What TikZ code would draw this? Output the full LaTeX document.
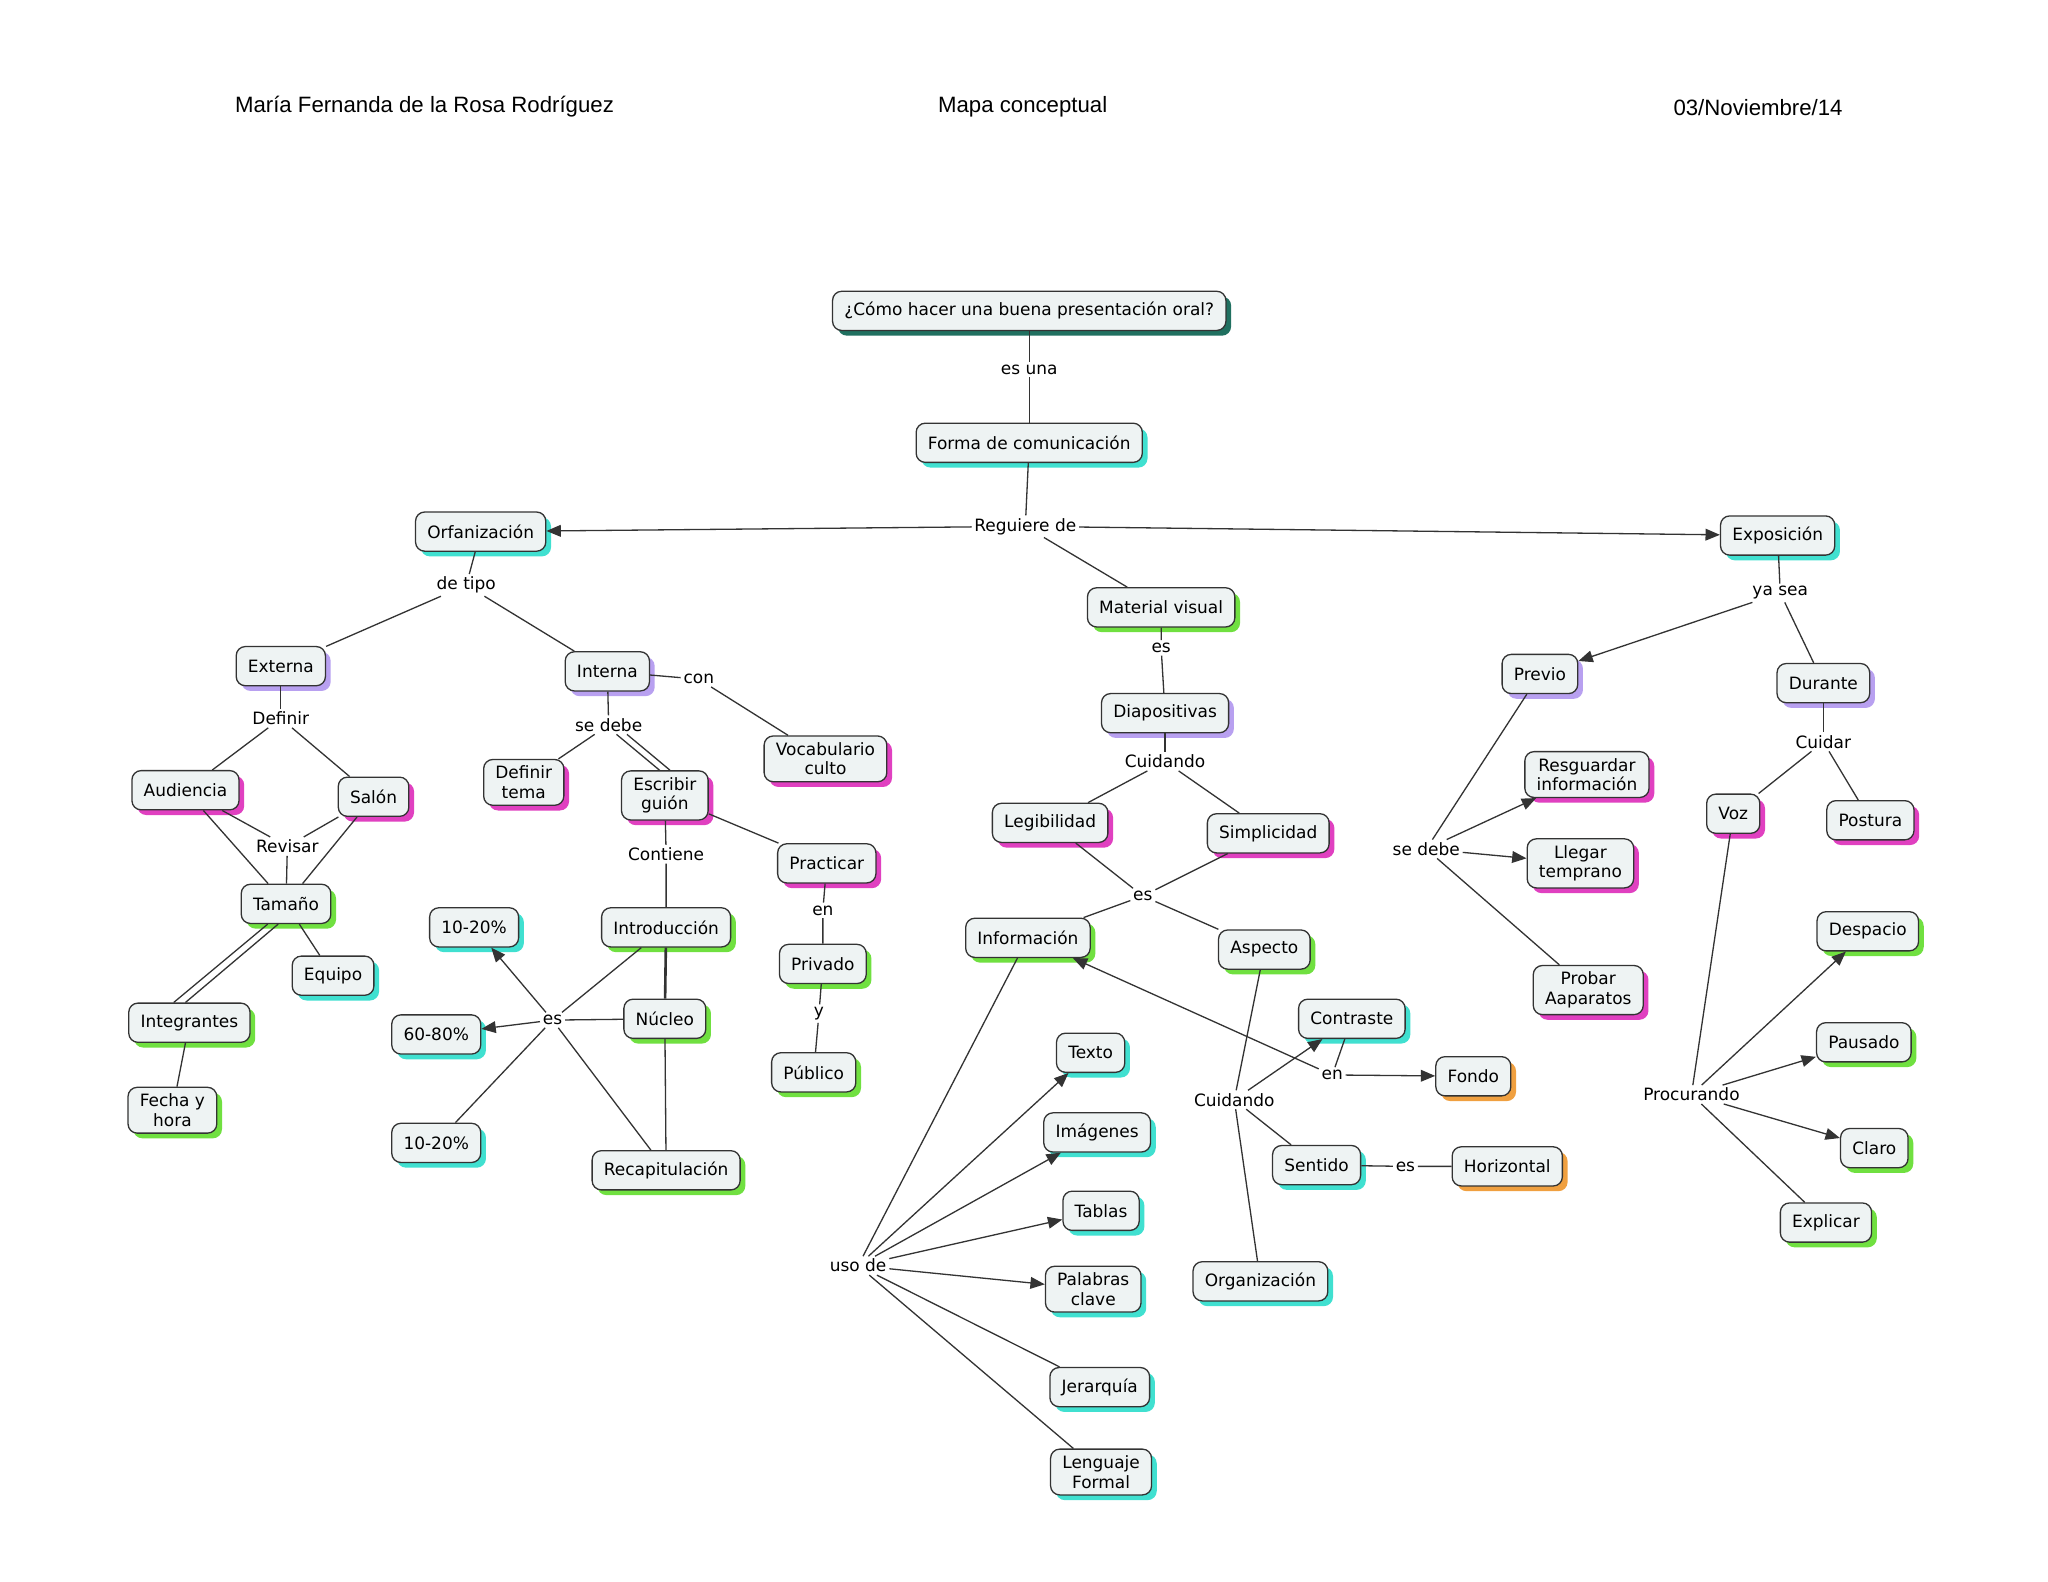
\documentclass[tikz,border=0pt]{standalone}
\usepackage{fontspec}
\setmainfont{DejaVu Sans}
\newfontfamily\hdr{Liberation Sans}
\usetikzlibrary{arrows.meta,shadows}
\definecolor{cy}{HTML}{40E0D0}
\definecolor{pu}{HTML}{B8A0F0}
\definecolor{mg}{HTML}{E040C0}
\definecolor{gr}{HTML}{70E040}
\definecolor{og}{HTML}{F0A040}
\definecolor{dt}{HTML}{207060}
\definecolor{nf}{HTML}{EEF3F3}
\definecolor{ln}{HTML}{333333}
\begin{document}
\begin{tikzpicture}[x=1pt,y=-1pt,
  nd/.style={draw=ln,line width=1pt,fill=nf,rounded corners=7pt,inner xsep=9pt,inner ysep=5pt,minimum height=30pt,align=center,font=\fontsize{13}{15}\selectfont,
    drop shadow={shadow xshift=4pt,shadow yshift=-4pt,fill=#1,opacity=1}},
  lb/.style={fill=white,inner sep=2pt,font=\fontsize{13}{15}\selectfont},
  ed/.style={draw=ln,line width=1pt},
  ar/.style={ed,-{Triangle[length=11pt,width=9pt]}}]
\useasboundingbox (0,0) rectangle (1568,1211);
\fill[white] (0,0) rectangle (1568,1211);
\begin{scope}[font=\hdr\fontsize{17}{20}\selectfont]
\node (h1) at (325,82) {María Fernanda de la Rosa Rodríguez};
\node (h2) at (783,82) {Mapa conceptual};
\node (h3) at (1346,82) {03/Noviembre/14};
\end{scope}
% nodes
\node[nd=dt] (q) at (788,238) {¿Cómo hacer una buena presentación oral?};
\node[nd=cy] (forma) at (788,339) {Forma de comunicación};
\node[nd=cy] (orf) at (368,407) {Orfanización};
\node[nd=cy] (expo) at (1361,410) {Exposición};
\node[nd=gr] (mat) at (889,465) {Material visual};
\node[nd=pu] (dia) at (892,546) {Diapositivas};
\node[nd=pu] (ext) at (215,510) {Externa};
\node[nd=pu] (int) at (465,514) {Interna};
\node[nd=mg] (voc) at (632,581) {Vocabulario\\culto};
\node[nd=mg] (deft) at (401,599) {Definir\\tema};
\node[nd=mg] (esc) at (509,609) {Escribir\\guión};
\node[nd=mg] (aud) at (142,605) {Audiencia};
\node[nd=mg] (sal) at (286,610) {Salón};
\node[nd=mg] (prac) at (633,661) {Practicar};
\node[nd=gr] (tam) at (219,692) {Tamaño};
\node[nd=cy] (equipo) at (255,747) {Equipo};
\node[nd=gr] (integ) at (145,783) {Integrantes};
\node[nd=gr] (fecha) at (132,850) {Fecha y\\hora};
\node[nd=cy] (pa) at (363,710) {10-20\%};
\node[nd=gr] (intro) at (510,710) {Introducción};
\node[nd=gr] (priv) at (630,738) {Privado};
\node[nd=gr] (publ) at (623,821) {Público};
\node[nd=cy] (pm) at (334,792) {60-80\%};
\node[nd=gr] (nucleo) at (509,780) {Núcleo};
\node[nd=cy] (pb) at (334,875) {10-20\%};
\node[nd=gr] (recap) at (510,896) {Recapitulación};
\node[nd=mg] (leg) at (804,630) {Legibilidad};
\node[nd=mg] (simp) at (971,638) {Simplicidad};
\node[nd=gr] (info) at (787,718) {Información};
\node[nd=gr] (asp) at (968,727) {Aspecto};
\node[nd=cy] (contr) at (1035,780) {Contraste};
\node[nd=og] (fondo) at (1128,824) {Fondo};
\node[nd=cy] (sent) at (1008,892) {Sentido};
\node[nd=og] (horiz) at (1154,893) {Horizontal};
\node[nd=cy] (org) at (965,981) {Organización};
\node[nd=cy] (texto) at (835,806) {Texto};
\node[nd=cy] (img) at (840,867) {Imágenes};
\node[nd=cy] (tablas) at (843,927) {Tablas};
\node[nd=cy] (pal) at (837,987) {Palabras\\clave};
\node[nd=cy] (jer) at (842,1062) {Jerarquía};
\node[nd=cy] (leng) at (843,1127) {Lenguaje\\Formal};
\node[nd=pu] (previo) at (1179,516) {Previo};
\node[nd=pu] (durante) at (1396,523) {Durante};
\node[nd=mg] (resg) at (1215,593) {Resguardar\\información};
\node[nd=mg] (llegar) at (1210,661) {Llegar\\temprano};
\node[nd=mg] (probar) at (1216,758) {Probar\\Aaparatos};
\node[nd=mg] (voz) at (1327,623) {Voz};
\node[nd=mg] (postura) at (1432,628) {Postura};
\node[nd=gr] (desp) at (1430,713) {Despacio};
\node[nd=gr] (paus) at (1427,798) {Pausado};
\node[nd=gr] (claro) at (1435,879) {Claro};
\node[nd=gr] (expl) at (1398,936) {Explicar};
% labels
\node[lb] (esuna) at (788,283) {es una};
\node[lb] (req) at (785,403) {Reguiere de};
\node[lb] (detipo) at (357,448) {de tipo};
\node[lb] (yasea) at (1363,454) {ya sea};
\node[lb] (es1) at (889,496) {es};
\node[lb] (cu1) at (892,583) {Cuidando};
\node[lb] (definir) at (215,550) {Definir};
\node[lb] (sd1) at (466,555) {se debe};
\node[lb] (con) at (535,520) {con};
\node[lb] (revisar) at (220,648) {Revisar};
\node[lb] (contiene) at (510,654) {Contiene};
\node[lb] (en1) at (630,697) {en};
\node[lb] (yy) at (627,776) {y};
\node[lb] (es2) at (423,781) {es};
\node[lb] (es3) at (875,686) {es};
\node[lb] (cu2) at (945,842) {Cuidando};
\node[lb] (en2) at (1020,823) {en};
\node[lb] (es4) at (1076,893) {es};
\node[lb] (usode) at (657,969) {uso de};
\node[lb] (sd2) at (1092,650) {se debe};
\node[lb] (cuidar) at (1396,568) {Cuidar};
\node[lb] (proc) at (1295,838) {Procurando};
% edges
\draw[ed] (q) -- (esuna) -- (forma);
\draw[ed] (forma) -- (req);
\draw[ar] (req) -- (orf);
\draw[ar] (req) -- (expo);
\draw[ed] (req) -- (mat);
\draw[ed] (mat) -- (es1) -- (dia);
\draw[ed] (dia) -- (cu1);
\draw[ed] (cu1) -- (leg); \draw[ed] (cu1) -- (simp);
\draw[ed] (leg) -- (es3); \draw[ed] (simp) -- (es3);
\draw[ed] (es3) -- (info); \draw[ed] (es3) -- (asp);
\draw[ed] (asp) -- (cu2);
\draw[ed] (cu2) -- (org);
\draw[ar] (cu2) -- (contr);
\draw[ed] (contr) -- (en2);
\draw[ar] (en2) -- (info);
\draw[ar] (en2) -- (fondo);
\draw[ed] (cu2) -- (sent);
\draw[ed] (sent) -- (es4) -- (horiz);
\draw[ed] (info) -- (usode);
\draw[ar] (usode) -- (texto);
\draw[ar] (usode) -- (img);
\draw[ar] (usode) -- (tablas);
\draw[ar] (usode) -- (pal);
\draw[ed] (usode) -- (jer);
\draw[ed] (usode) -- (leng);
\draw[ed] (orf) -- (detipo);
\draw[ed] (detipo) -- (ext); \draw[ed] (detipo) -- (int);
\draw[ed] (ext) -- (definir);
\draw[ed] (definir) -- (aud); \draw[ed] (definir) -- (sal);
\draw[ed] (aud) -- (revisar); \draw[ed] (sal) -- (revisar);
\draw[ed] (revisar) -- (tam);
\draw[ed] (aud) -- (tam); \draw[ed] (sal) -- (tam);
\draw[ed] (tam) -- (equipo);
\draw[ed] ([xshift=-6pt]tam.south) -- ([xshift=-3pt]integ.north);
\draw[ed] ([xshift=-14pt]tam.south) -- ([xshift=-12pt]integ.north);
\draw[ed] (integ) -- (fecha);
\draw[ed] (int) -- (con) -- (voc);
\draw[ed] (int) -- (sd1);
\draw[ed] (sd1) -- (deft);
\draw[ed] ([xshift=6pt]sd1.south) -- ([xshift=-4pt]esc.north);
\draw[ed] ([xshift=14pt]sd1.south) -- ([xshift=4pt]esc.north);
\draw[ed] (esc) -- (contiene) -- (intro);
\draw[ed] (esc) -- (prac);
\draw[ed] (prac) -- (en1) -- (priv);
\draw[ed] (priv) -- (yy) -- (publ);
\draw[ed,line width=2pt] (intro) -- (nucleo);
\draw[ed] (nucleo) -- (recap);
\draw[ed] (intro) -- (es2); \draw[ed] (nucleo) -- (es2);
\draw[ar] (es2) -- (pa);
\draw[ar] (es2) -- (pm);
\draw[ed] (es2) -- (pb);
\draw[ed] (es2) -- (recap);
\draw[ed] (expo) -- (yasea);
\draw[ar] (yasea) -- (previo);
\draw[ed] (yasea) -- (durante);
\draw[ed] (previo) -- (sd2);
\draw[ar] (sd2) -- (resg);
\draw[ar] (sd2) -- (llegar);
\draw[ed] (sd2) -- (probar);
\draw[ed] (durante) -- (cuidar);
\draw[ed] (cuidar) -- (voz); \draw[ed] (cuidar) -- (postura);
\draw[ed] (voz) -- (proc);
\draw[ar] (proc) -- (desp);
\draw[ar] (proc) -- (paus);
\draw[ar] (proc) -- (claro);
\draw[ed] (proc) -- (expl);
\end{tikzpicture}
\end{document}
